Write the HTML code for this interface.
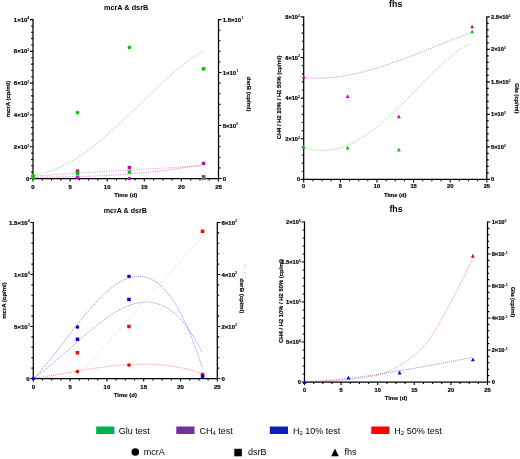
<!DOCTYPE html><html><head><meta charset="utf-8"><title>qPCR plots</title><style>html,body{margin:0;padding:0;background:#fff}svg{display:block;filter:blur(0.38px)}</style></head><body><svg width="520" height="459" viewBox="0 0 520 459" font-family="'Liberation Sans', Arial, sans-serif">
<rect width="520" height="459" fill="#fff"/>
<g stroke="#000" fill="none">
<path d="M32.38 178.5 H219.12" stroke-width="1.25"/>
<path d="M33 178.5 V19.1" stroke-width="1.25"/>
<path d="M218.5 178.5 V19.1" stroke-width="1.25"/>
<path d="M33 178.5v3M42.27 178.5v1.9M51.55 178.5v1.9M60.83 178.5v1.9M70.1 178.5v3M79.38 178.5v1.9M88.65 178.5v1.9M97.92 178.5v1.9M107.2 178.5v3M116.47 178.5v1.9M125.75 178.5v1.9M135.03 178.5v1.9M144.3 178.5v3M153.57 178.5v1.9M162.85 178.5v1.9M172.12 178.5v1.9M181.4 178.5v3M190.68 178.5v1.9M199.95 178.5v1.9M209.22 178.5v1.9M218.5 178.5v3" stroke-width="1.1"/>
<path d="M33 178.5h-3M33 172.14h-1.9M33 165.79h-1.9M33 159.43h-1.9M33 153.08h-1.9M33 146.72h-3M33 140.36h-1.9M33 134.01h-1.9M33 127.65h-1.9M33 121.3h-1.9M33 114.94h-3M33 108.58h-1.9M33 102.23h-1.9M33 95.87h-1.9M33 89.52h-1.9M33 83.16h-3M33 76.8h-1.9M33 70.45h-1.9M33 64.09h-1.9M33 57.74h-1.9M33 51.38h-3M33 45.02h-1.9M33 38.67h-1.9M33 32.31h-1.9M33 25.96h-1.9M33 19.6h-3M218.5 178.5h3M218.5 167.91h1.9M218.5 157.31h1.9M218.5 146.72h1.9M218.5 136.13h1.9M218.5 125.53h3M218.5 114.94h1.9M218.5 104.35h1.9M218.5 93.75h1.9M218.5 83.16h1.9M218.5 72.57h3M218.5 61.97h1.9M218.5 51.38h1.9M218.5 40.79h1.9M218.5 30.19h1.9M218.5 19.6h3" stroke-width="1.1"/>
</g>
<g font-weight="bold" font-size="6" fill="#000" stroke="#000" stroke-width="0.2">
<text x="33" y="189.1" text-anchor="middle">0</text>
<text x="70.1" y="189.1" text-anchor="middle">5</text>
<text x="107.2" y="189.1" text-anchor="middle">10</text>
<text x="144.3" y="189.1" text-anchor="middle">15</text>
<text x="181.4" y="189.1" text-anchor="middle">20</text>
<text x="218.5" y="189.1" text-anchor="middle">25</text>
<text x="29.4" y="180.5" text-anchor="end">0</text>
<text x="29.4" y="148.72" text-anchor="end">2×10<tspan dy="-2.2" font-size="3.7" stroke="none">3</tspan></text>
<text x="29.4" y="116.94" text-anchor="end">4×10<tspan dy="-2.2" font-size="3.7" stroke="none">3</tspan></text>
<text x="29.4" y="85.16" text-anchor="end">6×10<tspan dy="-2.2" font-size="3.7" stroke="none">3</tspan></text>
<text x="29.4" y="53.38" text-anchor="end">8×10<tspan dy="-2.2" font-size="3.7" stroke="none">3</tspan></text>
<text x="29.4" y="21.6" text-anchor="end">1×10<tspan dy="-2.2" font-size="3.7" stroke="none">4</tspan></text>
<text x="222.7" y="180.5">0</text>
<text x="222.7" y="127.53">5×10<tspan dy="-2.2" font-size="3.7" stroke="none">0</tspan></text>
<text x="222.7" y="74.57">1×10<tspan dy="-2.2" font-size="3.7" stroke="none">1</tspan></text>
<text x="222.7" y="21.6">1.5×10<tspan dy="-2.2" font-size="3.7" stroke="none">1</tspan></text>
</g>
<g font-weight="bold" font-size="6" fill="#000" text-anchor="middle" stroke="#000" stroke-width="0.15">
<text x="125.75" y="197">Time (d)</text>
<text transform="translate(9.6 99.05) rotate(-90)">mcrA (cp/ml)</text>
<text transform="translate(247 94) rotate(90)">dsrB (cp/ml)</text>
</g>
<text x="126.1" y="9.8" font-weight="bold" font-size="7.3" text-anchor="middle">mcrA &amp; dsrB</text>
<path d="M33 175.39 L35.16 175.01 L37.32 174.59 L39.48 174.11 L41.64 173.58 L43.8 172.99 L45.96 172.35 L48.12 171.66 L50.28 170.92 L52.44 170.13 L54.59 169.29 L56.75 168.4 L58.91 167.45 L61.07 166.46 L63.23 165.42 L65.39 164.33 L67.55 163.19 L69.71 162 L71.87 160.77 L74.03 159.49 L76.19 158.17 L78.35 156.8 L80.51 155.39 L82.67 153.94 L84.83 152.44 L86.99 150.91 L89.15 149.33 L91.31 147.72 L93.47 146.07 L95.63 144.39 L97.78 142.66 L99.94 140.91 L102.1 139.12 L104.26 137.31 L106.42 135.46 L108.58 133.58 L110.74 131.68 L112.9 129.75 L115.06 127.8 L117.22 125.82 L119.38 123.83 L121.54 121.81 L123.7 119.78 L125.86 117.74 L128.02 115.67 L130.18 113.6 L132.34 111.52 L134.5 109.42 L136.66 107.32 L138.82 105.22 L140.97 103.12 L143.13 101.01 L145.29 98.9 L147.45 96.8 L149.61 94.71 L151.77 92.62 L153.93 90.54 L156.09 88.48 L158.25 86.43 L160.41 84.4 L162.57 82.38 L164.73 80.39 L166.89 78.43 L169.05 76.49 L171.21 74.58 L173.37 72.7 L175.53 70.86 L177.69 69.06 L179.85 67.3 L182.01 65.58 L184.16 63.9 L186.32 62.28 L188.48 60.7 L190.64 59.19 L192.8 57.72 L194.96 56.32 L197.12 54.99 L199.28 53.72 L201.44 52.52 L203.6 51.39" fill="none" stroke="#00c800" stroke-width="1.0" stroke-dasharray="1 1" stroke-opacity="0.5"/>
<path d="M33 176.25 L35.16 176.09 L37.32 175.94 L39.48 175.79 L41.64 175.63 L43.8 175.48 L45.96 175.33 L48.12 175.18 L50.28 175.03 L52.44 174.88 L54.59 174.73 L56.75 174.58 L58.91 174.43 L61.07 174.28 L63.23 174.14 L65.39 173.99 L67.55 173.85 L69.71 173.7 L71.87 173.56 L74.03 173.41 L76.19 173.27 L78.35 173.13 L80.51 172.99 L82.67 172.85 L84.83 172.71 L86.99 172.57 L89.15 172.43 L91.31 172.29 L93.47 172.16 L95.63 172.02 L97.78 171.88 L99.94 171.75 L102.1 171.61 L104.26 171.48 L106.42 171.35 L108.58 171.21 L110.74 171.08 L112.9 170.95 L115.06 170.82 L117.22 170.69 L119.38 170.56 L121.54 170.43 L123.7 170.31 L125.86 170.18 L128.02 170.05 L130.18 169.93 L132.34 169.8 L134.5 169.68 L136.66 169.56 L138.82 169.43 L140.97 169.31 L143.13 169.19 L145.29 169.07 L147.45 168.95 L149.61 168.83 L151.77 168.71 L153.93 168.59 L156.09 168.47 L158.25 168.36 L160.41 168.24 L162.57 168.12 L164.73 168.01 L166.89 167.9 L169.05 167.78 L171.21 167.67 L173.37 167.56 L175.53 167.45 L177.69 167.34 L179.85 167.23 L182.01 167.12 L184.16 167.01 L186.32 166.9 L188.48 166.79 L190.64 166.68 L192.8 166.58 L194.96 166.47 L197.12 166.37 L199.28 166.26 L201.44 166.16 L203.6 166.06" fill="none" stroke="#c800c8" stroke-width="0.9" stroke-dasharray="1.1 1.2" stroke-opacity="0.45"/>
<path d="M33 177.19 L35.16 177.19 L37.32 177.19 L39.48 177.18 L41.64 177.17 L43.8 177.16 L45.96 177.15 L48.12 177.13 L50.28 177.11 L52.44 177.09 L54.59 177.07 L56.75 177.04 L58.91 177.01 L61.07 176.98 L63.23 176.95 L65.39 176.91 L67.55 176.87 L69.71 176.83 L71.87 176.78 L74.03 176.73 L76.19 176.68 L78.35 176.62 L80.51 176.56 L82.67 176.49 L84.83 176.42 L86.99 176.35 L89.15 176.27 L91.31 176.19 L93.47 176.11 L95.63 176.02 L97.78 175.93 L99.94 175.83 L102.1 175.73 L104.26 175.62 L106.42 175.51 L108.58 175.39 L110.74 175.27 L112.9 175.14 L115.06 175.01 L117.22 174.88 L119.38 174.74 L121.54 174.59 L123.7 174.44 L125.86 174.28 L128.02 174.12 L130.18 173.95 L132.34 173.77 L134.5 173.59 L136.66 173.41 L138.82 173.21 L140.97 173.02 L143.13 172.81 L145.29 172.6 L147.45 172.39 L149.61 172.16 L151.77 171.93 L153.93 171.7 L156.09 171.45 L158.25 171.2 L160.41 170.95 L162.57 170.68 L164.73 170.41 L166.89 170.14 L169.05 169.85 L171.21 169.56 L173.37 169.26 L175.53 168.96 L177.69 168.64 L179.85 168.32 L182.01 167.99 L184.16 167.65 L186.32 167.31 L188.48 166.96 L190.64 166.59 L192.8 166.23 L194.96 165.85 L197.12 165.46 L199.28 165.07 L201.44 164.67 L203.6 164.26" fill="none" stroke="#c800c8" stroke-width="1.0" stroke-dasharray="1.1 1.2" stroke-opacity="0.5"/>
<rect x="75.77" y="169.33" width="3.5" height="3.5" fill="#c800c8"/>
<rect x="127.71" y="165.84" width="3.5" height="3.5" fill="#c800c8"/>
<rect x="201.91" y="175.16" width="3.5" height="3.5" fill="#c800c8"/>
<circle cx="77.52" cy="177.55" r="1.85" fill="#c800c8"/>
<circle cx="129.46" cy="178.5" r="1.85" fill="#c800c8"/>
<circle cx="203.66" cy="163.4" r="1.85" fill="#c800c8"/>
<rect x="31.25" y="175.69" width="3.5" height="3.5" fill="#00c800"/>
<rect x="75.77" y="171.98" width="3.5" height="3.5" fill="#00c800"/>
<rect x="127.71" y="170.39" width="3.5" height="3.5" fill="#00c800"/>
<rect x="201.91" y="67.11" width="3.5" height="3.5" fill="#00c800"/>
<circle cx="33" cy="175.32" r="1.85" fill="#00c800"/>
<circle cx="77.52" cy="112.56" r="1.85" fill="#00c800"/>
<circle cx="129.46" cy="47.41" r="1.85" fill="#00c800"/>
<circle cx="203.66" cy="178.5" r="1.85" fill="#00c800"/>
<g stroke="#000" fill="none">
<path d="M303.07 179.4 H487.43" stroke-width="1.25"/>
<path d="M303.7 179.4 V16.4" stroke-width="1.25"/>
<path d="M486.8 179.4 V16.4" stroke-width="1.25"/>
<path d="M303.7 179.4v3M312.86 179.4v1.9M322.01 179.4v1.9M331.16 179.4v1.9M340.32 179.4v3M349.48 179.4v1.9M358.63 179.4v1.9M367.78 179.4v1.9M376.94 179.4v3M386.1 179.4v1.9M395.25 179.4v1.9M404.4 179.4v1.9M413.56 179.4v3M422.72 179.4v1.9M431.87 179.4v1.9M441.02 179.4v1.9M450.18 179.4v3M459.34 179.4v1.9M468.49 179.4v1.9M477.64 179.4v1.9M486.8 179.4v3" stroke-width="1.1"/>
<path d="M303.7 179.4h-3M303.7 171.28h-1.9M303.7 163.15h-1.9M303.7 155.03h-1.9M303.7 146.9h-1.9M303.7 138.78h-3M303.7 130.65h-1.9M303.7 122.53h-1.9M303.7 114.4h-1.9M303.7 106.28h-1.9M303.7 98.15h-3M303.7 90.03h-1.9M303.7 81.9h-1.9M303.7 73.78h-1.9M303.7 65.65h-1.9M303.7 57.53h-3M303.7 49.4h-1.9M303.7 41.28h-1.9M303.7 33.15h-1.9M303.7 25.03h-1.9M303.7 16.9h-3M486.8 179.4h3M486.8 172.9h1.9M486.8 166.4h1.9M486.8 159.9h1.9M486.8 153.4h1.9M486.8 146.9h3M486.8 140.4h1.9M486.8 133.9h1.9M486.8 127.4h1.9M486.8 120.9h1.9M486.8 114.4h3M486.8 107.9h1.9M486.8 101.4h1.9M486.8 94.9h1.9M486.8 88.4h1.9M486.8 81.9h3M486.8 75.4h1.9M486.8 68.9h1.9M486.8 62.4h1.9M486.8 55.9h1.9M486.8 49.4h3M486.8 42.9h1.9M486.8 36.4h1.9M486.8 29.9h1.9M486.8 23.4h1.9M486.8 16.9h3" stroke-width="1.1"/>
</g>
<g font-weight="bold" font-size="5.7" fill="#000" stroke="#000" stroke-width="0.2">
<text x="303.7" y="188.2" text-anchor="middle">0</text>
<text x="340.32" y="188.2" text-anchor="middle">5</text>
<text x="376.94" y="188.2" text-anchor="middle">10</text>
<text x="413.56" y="188.2" text-anchor="middle">15</text>
<text x="450.18" y="188.2" text-anchor="middle">20</text>
<text x="486.8" y="188.2" text-anchor="middle">25</text>
<text x="300.1" y="181.4" text-anchor="end">0</text>
<text x="300.1" y="140.78" text-anchor="end">2×10<tspan dy="-2.2" font-size="3.7" stroke="none">2</tspan></text>
<text x="300.1" y="100.15" text-anchor="end">4×10<tspan dy="-2.2" font-size="3.7" stroke="none">2</tspan></text>
<text x="300.1" y="59.53" text-anchor="end">6×10<tspan dy="-2.2" font-size="3.7" stroke="none">2</tspan></text>
<text x="300.1" y="18.9" text-anchor="end">8×10<tspan dy="-2.2" font-size="3.7" stroke="none">2</tspan></text>
<text x="491" y="181.4">0</text>
<text x="491" y="148.9">5×10<tspan dy="-2.2" font-size="3.7" stroke="none">2</tspan></text>
<text x="491" y="116.4">1×10<tspan dy="-2.2" font-size="3.7" stroke="none">3</tspan></text>
<text x="491" y="83.9">1.5×10<tspan dy="-2.2" font-size="3.7" stroke="none">3</tspan></text>
<text x="491" y="51.4">2×10<tspan dy="-2.2" font-size="3.7" stroke="none">3</tspan></text>
<text x="491" y="18.9">2.5×10<tspan dy="-2.2" font-size="3.7" stroke="none">3</tspan></text>
</g>
<g font-weight="bold" font-size="5.85" fill="#000" text-anchor="middle" stroke="#000" stroke-width="0.15">
<text x="395.25" y="196.6">Time (d)</text>
<text transform="translate(280.7 97.45) rotate(-90)">CH4 / H2 10% / H2 50% (cp/ml)</text>
<text transform="translate(515.4 98.15) rotate(90)">Glu (cp/ml)</text>
</g>
<text x="395.7" y="7.3" font-weight="bold" font-size="8.8" text-anchor="middle">fhs</text>
<path d="M303.7 77.47 L305.83 77.67 L307.97 77.83 L310.1 77.96 L312.24 78.05 L314.37 78.12 L316.51 78.15 L318.64 78.14 L320.77 78.11 L322.91 78.05 L325.04 77.95 L327.18 77.83 L329.31 77.68 L331.44 77.5 L333.58 77.29 L335.71 77.06 L337.85 76.8 L339.98 76.51 L342.12 76.2 L344.25 75.87 L346.38 75.5 L348.52 75.12 L350.65 74.71 L352.79 74.28 L354.92 73.83 L357.05 73.36 L359.19 72.87 L361.32 72.35 L363.46 71.82 L365.59 71.27 L367.73 70.7 L369.86 70.11 L371.99 69.5 L374.13 68.88 L376.26 68.24 L378.4 67.59 L380.53 66.92 L382.66 66.24 L384.8 65.54 L386.93 64.83 L389.07 64.11 L391.2 63.37 L393.34 62.63 L395.47 61.87 L397.6 61.1 L399.74 60.32 L401.87 59.54 L404.01 58.74 L406.14 57.94 L408.27 57.13 L410.41 56.31 L412.54 55.49 L414.68 54.66 L416.81 53.83 L418.95 52.99 L421.08 52.14 L423.21 51.3 L425.35 50.45 L427.48 49.6 L429.62 48.74 L431.75 47.89 L433.88 47.04 L436.02 46.18 L438.15 45.33 L440.29 44.48 L442.42 43.63 L444.56 42.78 L446.69 41.93 L448.82 41.09 L450.96 40.25 L453.09 39.42 L455.23 38.59 L457.36 37.77 L459.49 36.96 L461.63 36.15 L463.76 35.35 L465.9 34.55 L468.03 33.77 L470.17 33 L472.3 32.23" fill="none" stroke="#c800c8" stroke-width="1.0" stroke-dasharray="1.1 1.2" stroke-opacity="0.5"/>
<path d="M303.7 147.09 L305.82 147.79 L307.93 148.4 L310.05 148.93 L312.16 149.38 L314.28 149.75 L316.39 150.03 L318.51 150.24 L320.62 150.36 L322.74 150.41 L324.85 150.37 L326.97 150.26 L329.08 150.07 L331.2 149.8 L333.31 149.45 L335.43 149.03 L337.54 148.53 L339.66 147.96 L341.77 147.31 L343.89 146.59 L346 145.8 L348.12 144.94 L350.23 144.01 L352.35 143.02 L354.46 141.95 L356.58 140.83 L358.69 139.64 L360.81 138.38 L362.93 137.07 L365.04 135.69 L367.16 134.26 L369.27 132.78 L371.39 131.24 L373.5 129.64 L375.62 128 L377.73 126.31 L379.85 124.57 L381.96 122.79 L384.08 120.97 L386.19 119.11 L388.31 117.2 L390.42 115.27 L392.54 113.3 L394.65 111.29 L396.77 109.27 L398.88 107.21 L401 105.13 L403.11 103.03 L405.23 100.91 L407.34 98.78 L409.46 96.63 L411.57 94.48 L413.69 92.31 L415.81 90.15 L417.92 87.98 L420.04 85.81 L422.15 83.65 L424.27 81.5 L426.38 79.36 L428.5 77.24 L430.61 75.13 L432.73 73.04 L434.84 70.98 L436.96 68.95 L439.07 66.95 L441.19 64.99 L443.3 63.06 L445.42 61.18 L447.53 59.34 L449.65 57.56 L451.76 55.83 L453.88 54.16 L455.99 52.55 L458.11 51.01 L460.22 49.54 L462.34 48.15 L464.45 46.83 L466.57 45.6 L468.68 44.45 L470.8 43.4" fill="none" stroke="#00c800" stroke-width="1.0" stroke-dasharray="1 1" stroke-opacity="0.5"/>
<path d="M303.7 75L305.6 78.8L301.8 78.8Z" fill="#c800c8"/>
<path d="M347.64 94.2L349.54 98L345.74 98Z" fill="#c800c8"/>
<path d="M398.91 114.4L400.81 118.2L397.01 118.2Z" fill="#c800c8"/>
<path d="M472.15 24.4L474.05 28.2L470.25 28.2Z" fill="#c800c8"/>
<path d="M303.7 144.8L305.6 148.6L301.8 148.6Z" fill="#00c800"/>
<path d="M347.64 145.6L349.54 149.4L345.74 149.4Z" fill="#00c800"/>
<path d="M398.91 147.6L400.81 151.4L397.01 151.4Z" fill="#00c800"/>
<path d="M472.15 29.4L474.05 33.2L470.25 33.2Z" fill="#00c800"/>
<g stroke="#000" fill="none">
<path d="M32.67 378.5 H217.93" stroke-width="1.25"/>
<path d="M33.3 378.5 V222" stroke-width="1.25"/>
<path d="M217.3 378.5 V222" stroke-width="1.25"/>
<path d="M33.3 378.5v3M42.5 378.5v1.9M51.7 378.5v1.9M60.9 378.5v1.9M70.1 378.5v3M79.3 378.5v1.9M88.5 378.5v1.9M97.7 378.5v1.9M106.9 378.5v3M116.1 378.5v1.9M125.3 378.5v1.9M134.5 378.5v1.9M143.7 378.5v3M152.9 378.5v1.9M162.1 378.5v1.9M171.3 378.5v1.9M180.5 378.5v3M189.7 378.5v1.9M198.9 378.5v1.9M208.1 378.5v1.9M217.3 378.5v3" stroke-width="1.1"/>
<path d="M33.3 378.5h-3M33.3 368.1h-1.9M33.3 357.7h-1.9M33.3 347.3h-1.9M33.3 336.9h-1.9M33.3 326.5h-3M33.3 316.1h-1.9M33.3 305.7h-1.9M33.3 295.3h-1.9M33.3 284.9h-1.9M33.3 274.5h-3M33.3 264.1h-1.9M33.3 253.7h-1.9M33.3 243.3h-1.9M33.3 232.9h-1.9M33.3 222.5h-3M217.3 378.5h3M217.3 368.1h1.9M217.3 357.7h1.9M217.3 347.3h1.9M217.3 336.9h1.9M217.3 326.5h3M217.3 316.1h1.9M217.3 305.7h1.9M217.3 295.3h1.9M217.3 284.9h1.9M217.3 274.5h3M217.3 264.1h1.9M217.3 253.7h1.9M217.3 243.3h1.9M217.3 232.9h1.9M217.3 222.5h3" stroke-width="1.1"/>
</g>
<g font-weight="bold" font-size="6" fill="#000" stroke="#000" stroke-width="0.2">
<text x="33.3" y="389.1" text-anchor="middle">0</text>
<text x="70.1" y="389.1" text-anchor="middle">5</text>
<text x="106.9" y="389.1" text-anchor="middle">10</text>
<text x="143.7" y="389.1" text-anchor="middle">15</text>
<text x="180.5" y="389.1" text-anchor="middle">20</text>
<text x="217.3" y="389.1" text-anchor="middle">25</text>
<text x="29.7" y="380.5" text-anchor="end">0</text>
<text x="29.7" y="328.5" text-anchor="end">5×10<tspan dy="-2.2" font-size="3.7" stroke="none">3</tspan></text>
<text x="29.7" y="276.5" text-anchor="end">1×10<tspan dy="-2.2" font-size="3.7" stroke="none">4</tspan></text>
<text x="29.7" y="224.5" text-anchor="end">1.5×10<tspan dy="-2.2" font-size="3.7" stroke="none">4</tspan></text>
<text x="221.5" y="380.5">0</text>
<text x="221.5" y="328.5">2×10<tspan dy="-2.2" font-size="3.7" stroke="none">2</tspan></text>
<text x="221.5" y="276.5">4×10<tspan dy="-2.2" font-size="3.7" stroke="none">2</tspan></text>
<text x="221.5" y="224.5">6×10<tspan dy="-2.2" font-size="3.7" stroke="none">2</tspan></text>
</g>
<g font-weight="bold" font-size="6" fill="#000" text-anchor="middle" stroke="#000" stroke-width="0.15">
<text x="125.3" y="397">Time (d)</text>
<text transform="translate(5.6 300.5) rotate(-90)">mcrA (cp/ml)</text>
<text transform="translate(240.3 295.8) rotate(90)">dsrB (cp/ml)</text>
</g>
<text x="125.3" y="212.9" font-weight="bold" font-size="7.1" text-anchor="middle">mcrA &amp; dsrB</text>
<path d="M33.3 378.3 L77.8 375.9 L202.6 236.5" fill="none" stroke="#ff0000" stroke-width="0.6" stroke-dasharray="0.6 0.6" stroke-opacity="0.35"/>
<path d="M33.3 379.23 L35.43 376.93 L37.57 374.56 L39.7 372.13 L41.84 369.65 L43.97 367.11 L46.11 364.53 L48.24 361.91 L50.37 359.25 L52.51 356.56 L54.64 353.85 L56.78 351.11 L58.91 348.35 L61.04 345.58 L63.18 342.8 L65.31 340.01 L67.45 337.23 L69.58 334.45 L71.72 331.69 L73.85 328.93 L75.98 326.2 L78.12 323.49 L80.25 320.81 L82.39 318.16 L84.52 315.55 L86.65 312.98 L88.79 310.46 L90.92 308 L93.06 305.59 L95.19 303.24 L97.33 300.95 L99.46 298.74 L101.59 296.6 L103.73 294.54 L105.86 292.57 L108 290.69 L110.13 288.9 L112.26 287.21 L114.4 285.62 L116.53 284.14 L118.67 282.77 L120.8 281.52 L122.94 280.39 L125.07 279.39 L127.2 278.52 L129.34 277.78 L131.47 277.19 L133.61 276.74 L135.74 276.44 L137.87 276.3 L140.01 276.31 L142.14 276.49 L144.28 276.84 L146.41 277.36 L148.55 278.06 L150.68 278.94 L152.81 280.01 L154.95 281.27 L157.08 282.73 L159.22 284.38 L161.35 286.25 L163.48 288.32 L165.62 290.61 L167.75 293.12 L169.89 295.86 L172.02 298.82 L174.16 302.02 L176.29 305.45 L178.42 309.13 L180.56 313.06 L182.69 317.24 L184.83 321.67 L186.96 326.37 L189.09 331.33 L191.23 336.57 L193.36 342.08 L195.5 347.87 L197.63 353.95 L199.77 360.32 L201.9 366.98" fill="none" stroke="#0000ff" stroke-width="0.85" stroke-dasharray="1 1" stroke-opacity="0.55"/>
<path d="M33.3 378.68 L35.43 377.17 L37.57 375.62 L39.7 374.02 L41.84 372.39 L43.97 370.72 L46.11 369.01 L48.24 367.28 L50.37 365.51 L52.51 363.72 L54.64 361.9 L56.78 360.07 L58.91 358.21 L61.04 356.34 L63.18 354.46 L65.31 352.56 L67.45 350.66 L69.58 348.76 L71.72 346.85 L73.85 344.94 L75.98 343.04 L78.12 341.14 L80.25 339.25 L82.39 337.37 L84.52 335.51 L86.65 333.67 L88.79 331.85 L90.92 330.05 L93.06 328.28 L95.19 326.54 L97.33 324.83 L99.46 323.16 L101.59 321.53 L103.73 319.94 L105.86 318.39 L108 316.9 L110.13 315.46 L112.26 314.07 L114.4 312.74 L116.53 311.47 L118.67 310.27 L120.8 309.14 L122.94 308.07 L125.07 307.09 L127.2 306.18 L129.34 305.35 L131.47 304.61 L133.61 303.96 L135.74 303.4 L137.87 302.93 L140.01 302.57 L142.14 302.3 L144.28 302.14 L146.41 302.1 L148.55 302.16 L150.68 302.35 L152.81 302.65 L154.95 303.08 L157.08 303.64 L159.22 304.33 L161.35 305.15 L163.48 306.11 L165.62 307.22 L167.75 308.47 L169.89 309.88 L172.02 311.44 L174.16 313.15 L176.29 315.03 L178.42 317.08 L180.56 319.3 L182.69 321.69 L184.83 324.25 L186.96 327.01 L189.09 329.94 L191.23 333.07 L193.36 336.39 L195.5 339.91 L197.63 343.64 L199.77 347.57 L201.9 351.71" fill="none" stroke="#0000ff" stroke-width="0.85" stroke-dasharray="1 1" stroke-opacity="0.55"/>
<path d="M33.3 378.53 L35.43 378.2 L37.57 377.86 L39.7 377.51 L41.84 377.16 L43.97 376.8 L46.11 376.44 L48.24 376.08 L50.37 375.71 L52.51 375.34 L54.64 374.97 L56.78 374.6 L58.91 374.22 L61.04 373.84 L63.18 373.47 L65.31 373.09 L67.45 372.72 L69.58 372.34 L71.72 371.97 L73.85 371.6 L75.98 371.24 L78.12 370.88 L80.25 370.52 L82.39 370.16 L84.52 369.81 L86.65 369.47 L88.79 369.13 L90.92 368.8 L93.06 368.48 L95.19 368.16 L97.33 367.86 L99.46 367.56 L101.59 367.27 L103.73 366.99 L105.86 366.72 L108 366.46 L110.13 366.21 L112.26 365.98 L114.4 365.75 L116.53 365.54 L118.67 365.34 L120.8 365.16 L122.94 364.99 L125.07 364.84 L127.2 364.7 L129.34 364.58 L131.47 364.47 L133.61 364.38 L135.74 364.31 L137.87 364.26 L140.01 364.22 L142.14 364.21 L144.28 364.21 L146.41 364.23 L148.55 364.28 L150.68 364.34 L152.81 364.43 L154.95 364.54 L157.08 364.67 L159.22 364.83 L161.35 365.01 L163.48 365.21 L165.62 365.44 L167.75 365.69 L169.89 365.97 L172.02 366.28 L174.16 366.61 L176.29 366.97 L178.42 367.36 L180.56 367.77 L182.69 368.22 L184.83 368.69 L186.96 369.2 L189.09 369.73 L191.23 370.3 L193.36 370.9 L195.5 371.53 L197.63 372.19 L199.77 372.88 L201.9 373.61" fill="none" stroke="#ff0000" stroke-width="0.9" stroke-dasharray="1 1" stroke-opacity="0.5"/>
<rect x="75.71" y="351.01" width="3.5" height="3.5" fill="#ff0000"/>
<rect x="127.23" y="324.75" width="3.5" height="3.5" fill="#ff0000"/>
<rect x="200.83" y="229.59" width="3.5" height="3.5" fill="#ff0000"/>
<circle cx="77.46" cy="371.53" r="1.85" fill="#ff0000"/>
<circle cx="128.98" cy="364.98" r="1.85" fill="#ff0000"/>
<circle cx="202.58" cy="374.34" r="1.85" fill="#ff0000"/>
<rect x="75.71" y="337.49" width="3.5" height="3.5" fill="#0000ff"/>
<rect x="127.23" y="297.71" width="3.5" height="3.5" fill="#0000ff"/>
<rect x="200.83" y="374.67" width="3.5" height="3.5" fill="#0000ff"/>
<circle cx="33.3" cy="378.5" r="1.85" fill="#0000ff"/>
<circle cx="77.46" cy="327.02" r="1.85" fill="#0000ff"/>
<circle cx="128.98" cy="276.27" r="1.85" fill="#0000ff"/>
<g fill="#555"><circle cx="244.9" cy="264.2" r="0.45"/><circle cx="244.9" cy="266.4" r="0.45"/><circle cx="244.9" cy="272.4" r="0.45"/><circle cx="245.4" cy="277.6" r="0.45"/></g>
<path d="M233.5 278.7H238" stroke="#ff8080" stroke-width="0.5" stroke-opacity="0.5"/>
<g stroke="#000" fill="none">
<path d="M303.88 382 H488.12" stroke-width="1.25"/>
<path d="M304.5 382 V221.5" stroke-width="1.25"/>
<path d="M487.5 382 V221.5" stroke-width="1.25"/>
<path d="M304.5 382v3M313.65 382v1.9M322.8 382v1.9M331.95 382v1.9M341.1 382v3M350.25 382v1.9M359.4 382v1.9M368.55 382v1.9M377.7 382v3M386.85 382v1.9M396 382v1.9M405.15 382v1.9M414.3 382v3M423.45 382v1.9M432.6 382v1.9M441.75 382v1.9M450.9 382v3M460.05 382v1.9M469.2 382v1.9M478.35 382v1.9M487.5 382v3" stroke-width="1.1"/>
<path d="M304.5 382h-3M304.5 374h-1.9M304.5 366h-1.9M304.5 358h-1.9M304.5 350h-1.9M304.5 342h-3M304.5 334h-1.9M304.5 326h-1.9M304.5 318h-1.9M304.5 310h-1.9M304.5 302h-3M304.5 294h-1.9M304.5 286h-1.9M304.5 278h-1.9M304.5 270h-1.9M304.5 262h-3M304.5 254h-1.9M304.5 246h-1.9M304.5 238h-1.9M304.5 230h-1.9M304.5 222h-3M487.5 382h3M487.5 375.6h1.9M487.5 369.2h1.9M487.5 362.8h1.9M487.5 356.4h1.9M487.5 350h3M487.5 343.6h1.9M487.5 337.2h1.9M487.5 330.8h1.9M487.5 324.4h1.9M487.5 318h3M487.5 311.6h1.9M487.5 305.2h1.9M487.5 298.8h1.9M487.5 292.4h1.9M487.5 286h3M487.5 279.6h1.9M487.5 273.2h1.9M487.5 266.8h1.9M487.5 260.4h1.9M487.5 254h3M487.5 247.6h1.9M487.5 241.2h1.9M487.5 234.8h1.9M487.5 228.4h1.9M487.5 222h3" stroke-width="1.1"/>
</g>
<g font-weight="bold" font-size="5.7" fill="#000" stroke="#000" stroke-width="0.2">
<text x="304.5" y="391.6" text-anchor="middle">0</text>
<text x="341.1" y="391.6" text-anchor="middle">5</text>
<text x="377.7" y="391.6" text-anchor="middle">10</text>
<text x="414.3" y="391.6" text-anchor="middle">15</text>
<text x="450.9" y="391.6" text-anchor="middle">20</text>
<text x="487.5" y="391.6" text-anchor="middle">25</text>
<text x="300.9" y="384" text-anchor="end">0</text>
<text x="300.9" y="344" text-anchor="end">5×10<tspan dy="-2.2" font-size="3.7" stroke="none">4</tspan></text>
<text x="300.9" y="304" text-anchor="end">1×10<tspan dy="-2.2" font-size="3.7" stroke="none">5</tspan></text>
<text x="300.9" y="264" text-anchor="end">1.5×10<tspan dy="-2.2" font-size="3.7" stroke="none">5</tspan></text>
<text x="300.9" y="224" text-anchor="end">2×10<tspan dy="-2.2" font-size="3.7" stroke="none">5</tspan></text>
<text x="491.7" y="384">0</text>
<text x="491.7" y="352">2×10<tspan dy="-2.2" font-size="3.7" stroke="none">-1</tspan></text>
<text x="491.7" y="320">4×10<tspan dy="-2.2" font-size="3.7" stroke="none">-1</tspan></text>
<text x="491.7" y="288">6×10<tspan dy="-2.2" font-size="3.7" stroke="none">-1</tspan></text>
<text x="491.7" y="256">8×10<tspan dy="-2.2" font-size="3.7" stroke="none">-1</tspan></text>
<text x="491.7" y="224">1×10<tspan dy="-2.2" font-size="3.7" stroke="none">0</tspan></text>
</g>
<g font-weight="bold" font-size="5.85" fill="#000" text-anchor="middle" stroke="#000" stroke-width="0.15">
<text x="396" y="399.6">Time (d)</text>
<text transform="translate(283 301) rotate(-90)">CH4 / H2 10% / H2 50% (cp/ml)</text>
<text transform="translate(510.5 302) rotate(90)">Glu (cp/ml)</text>
</g>
<text x="396" y="212.1" font-weight="bold" font-size="8.8" text-anchor="middle">fhs</text>
<path d="M304.5 382 L306.62 381.99 L308.74 381.97 L310.86 381.93 L312.98 381.88 L315.1 381.81 L317.22 381.73 L319.34 381.64 L321.46 381.54 L323.58 381.43 L325.7 381.3 L327.82 381.17 L329.94 381.03 L332.06 380.89 L334.18 380.73 L336.3 380.58 L338.42 380.41 L340.54 380.25 L342.66 380.07 L344.78 379.9 L346.91 379.72 L349.03 379.55 L351.15 379.35 L353.27 379.14 L355.39 378.91 L357.51 378.65 L359.63 378.37 L361.75 378.07 L363.87 377.75 L365.99 377.4 L368.11 377.04 L370.23 376.64 L372.35 376.23 L374.47 375.79 L376.59 375.32 L378.71 374.83 L380.83 374.23 L382.95 373.53 L385.07 372.74 L387.19 371.86 L389.31 370.93 L391.43 369.94 L393.55 368.91 L395.67 367.86 L397.79 366.73 L399.91 365.49 L402.03 364.17 L404.15 362.77 L406.27 361.3 L408.39 359.77 L410.51 358.19 L412.63 356.54 L414.75 354.81 L416.87 352.98 L418.99 351.05 L421.11 349.01 L423.23 346.85 L425.35 344.52 L427.47 341.82 L429.59 338.87 L431.72 335.67 L433.84 332.28 L435.96 328.74 L438.08 325.12 L440.2 321.47 L442.32 317.72 L444.44 313.87 L446.56 309.94 L448.68 305.97 L450.8 302 L452.92 298.04 L455.04 294.1 L457.16 290.14 L459.28 286.12 L461.4 282.01 L463.52 277.79 L465.64 273.48 L467.76 269.05 L469.88 264.49 L472 259.8" fill="none" stroke="#ff0000" stroke-width="0.9" stroke-dasharray="1 1" stroke-opacity="0.5"/>
<path d="M304.5 382 L306.62 381.89 L308.74 381.77 L310.86 381.64 L312.98 381.5 L315.1 381.36 L317.22 381.21 L319.34 381.06 L321.46 380.9 L323.58 380.73 L325.7 380.56 L327.82 380.38 L329.94 380.19 L332.06 380 L334.18 379.81 L336.3 379.61 L338.42 379.41 L340.54 379.2 L342.66 378.99 L344.78 378.78 L346.91 378.56 L349.03 378.33 L351.15 378.1 L353.27 377.86 L355.39 377.6 L357.51 377.34 L359.63 377.06 L361.75 376.77 L363.87 376.48 L365.99 376.18 L368.11 375.87 L370.23 375.55 L372.35 375.23 L374.47 374.9 L376.59 374.56 L378.71 374.22 L380.83 373.88 L382.95 373.53 L385.07 373.18 L387.19 372.82 L389.31 372.47 L391.43 372.11 L393.55 371.75 L395.67 371.4 L397.79 371.04 L399.91 370.68 L402.03 370.33 L404.15 369.97 L406.27 369.62 L408.39 369.27 L410.51 368.91 L412.63 368.55 L414.75 368.18 L416.87 367.82 L418.99 367.45 L421.11 367.08 L423.23 366.7 L425.35 366.32 L427.47 365.95 L429.59 365.56 L431.72 365.18 L433.84 364.79 L435.96 364.4 L438.08 364.01 L440.2 363.62 L442.32 363.22 L444.44 362.82 L446.56 362.42 L448.68 362.01 L450.8 361.61 L452.92 361.2 L455.04 360.78 L457.16 360.37 L459.28 359.95 L461.4 359.53 L463.52 359.11 L465.64 358.69 L467.76 358.26 L469.88 357.83 L472 357.4" fill="none" stroke="#0000ff" stroke-width="0.85" stroke-dasharray="1 1" stroke-opacity="0.55"/>
<path d="M304.5 380.1L306.4 383.9L302.6 383.9Z" fill="#0000ff"/>
<path d="M348.42 375.62L350.32 379.42L346.52 379.42Z" fill="#0000ff"/>
<path d="M399.66 370.58L401.56 374.38L397.76 374.38Z" fill="#0000ff"/>
<path d="M472.86 357.38L474.76 361.18L470.96 361.18Z" fill="#0000ff"/>
<path d="M472.86 253.86L474.76 257.66L470.96 257.66Z" fill="#ff0000"/>
<g font-size="9" fill="#000">
<rect x="96.2" y="426.5" width="18.2" height="7.5" fill="#00b050"/>
<text x="118.7" y="433.5">Glu test</text>
<rect x="176.3" y="426.5" width="18.2" height="7.5" fill="#7030a0"/>
<text x="199.5" y="433.5">CH<tspan font-size="6" dy="1.5">4</tspan><tspan dy="-1.5"> test</tspan></text>
<rect x="269.8" y="426.5" width="18.2" height="7.5" fill="#0a1eb4"/>
<text x="293" y="433.5">H<tspan font-size="6" dy="1.5">2</tspan><tspan dy="-1.5"> 10% test</tspan></text>
<rect x="371.3" y="426.5" width="18.2" height="7.5" fill="#ff0000"/>
<text x="394.3" y="433.5">H<tspan font-size="6" dy="1.5">2</tspan><tspan dy="-1.5"> 50% test</tspan></text>
<circle cx="135.3" cy="452" r="3.8"/>
<text x="143.8" y="454.7">mcrA</text>
<rect x="234.3" y="448.8" width="7.6" height="7.5"/>
<text x="248" y="454.7">dsrB</text>
<path d="M335 448.6L338.8 456.3H331.2Z"/>
<text x="344.4" y="454.7">fhs</text>
</g>
</svg></body></html>
